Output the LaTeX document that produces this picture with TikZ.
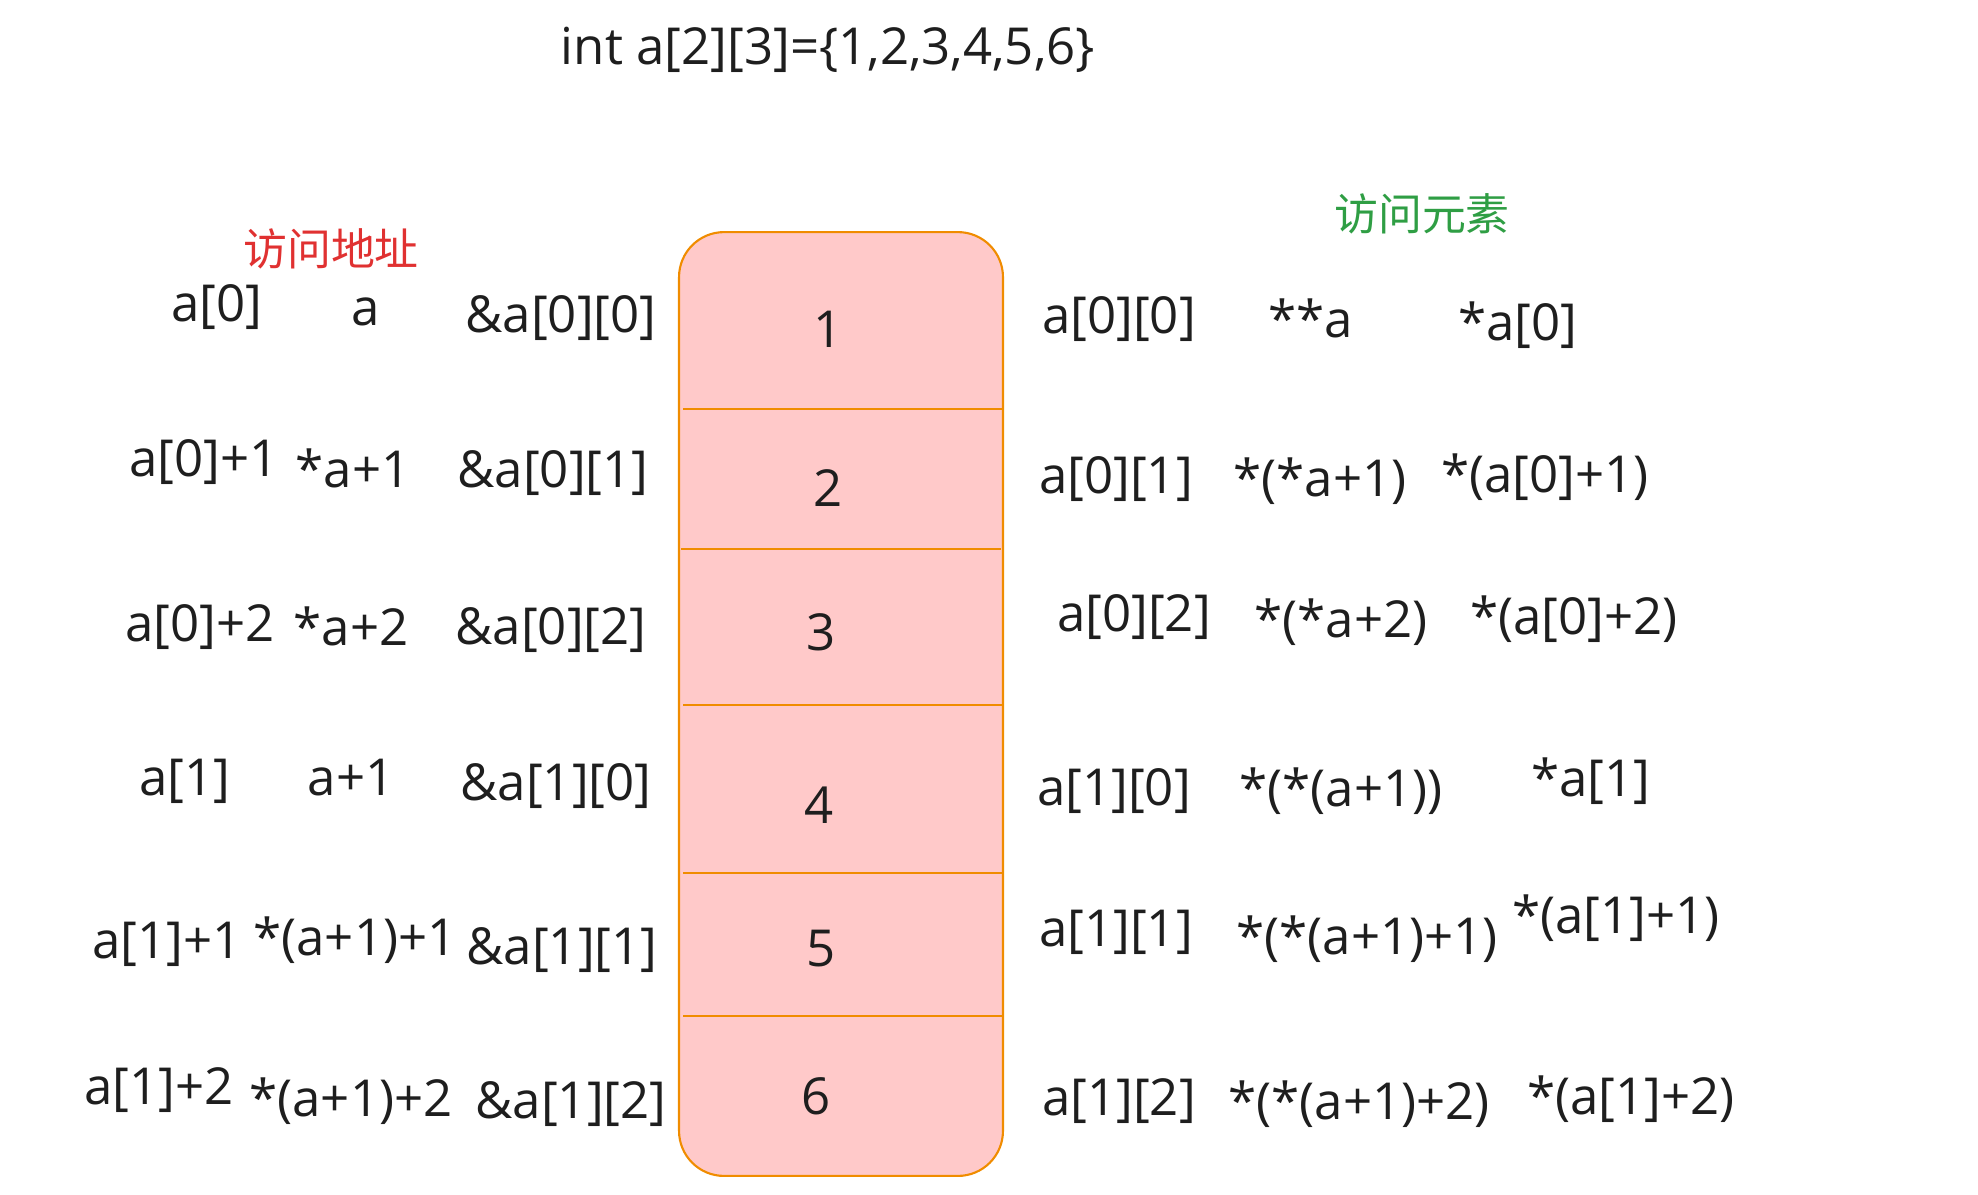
\documentclass[tikz,border=0pt]{standalone}
\usepackage{fontspec}
\setmainfont{Open Sans}
\newfontfamily\cjkfont{Noto Sans CJK SC}
\definecolor{cellfill}{HTML}{FFC9C9}
\definecolor{cellline}{HTML}{F08C00}
\definecolor{addrred}{HTML}{E03131}
\definecolor{elemgreen}{HTML}{2F9E44}
\definecolor{ink}{HTML}{1E1E1E}

\begin{document}
\begin{tikzpicture}[x=0.02cm,y=-0.02cm]
		\tikzstyle{every node}+=[inner sep=0pt,text=ink,font=\fontsize{29}{32}\selectfont]
		\tikzstyle{cell}=[draw=cellline,fill=cellfill,line width=1.2pt,rounded corners=0.9cm]
		\tikzstyle{split}=[draw=cellline,line width=1.2pt]
		\tikzstyle{head}=[font=\cjkfont\fontsize{25}{28}\selectfont]
		\useasboundingbox (0,0) rectangle (1978,1194);
		\node (title) at (828,50) {int a[2][3]=\{1,2,3,4,5,6\}};
		\node (col) at (841,704) [cell,minimum width=6.48cm,minimum height=18.88cm] {};
		\draw [split] (683,409) -- (1003,409);
		\draw [split] (681,549) -- (1001,549);
		\draw [split] (683,705) -- (1003,705);
		\draw [split] (683,873) -- (1003,873);
		\draw [split] (683,1016) -- (1003,1016);
		\node (c1) at (828,329) {1};
		\node (c2) at (828,488) {2};
		\node (c3) at (821,632) {3};
		\node (c4) at (819,805) {4};
		\node (c5) at (821,949) {5};
		\node (c6) at (816,1096) {6};
		\node (addr) at (331,249) [head,text=addrred] {访问地址};
		\node (elem) at (1422,214) [head,text=elemgreen] {访问元素};
		\node (l11) at (217,307) {a[0]};
		\node (l12) at (366,312) {a};
		\node (l13) at (561,318) {\&a[0][0]};
		\node (l21) at (204,462) {a[0]+1};
		\node (l22) at (353,468) {*a+1};
		\node (l23) at (553,473) {\&a[0][1]};
		\node (l31) at (200,627) {a[0]+2};
		\node (l32) at (351,626) {*a+2};
		\node (l33) at (551,630) {\&a[0][2]};
		\node (l41) at (185,781) {a[1]};
		\node (l42) at (351,778) {a+1};
		\node (l43) at (556,786) {\&a[1][0]};
		\node (l51) at (167,944) {a[1]+1};
		\node (l52) at (355,940) {*(a+1)+1};
		\node (l53) at (562,950) {\&a[1][1]};
		\node (l61) at (159,1090) {a[1]+2};
		\node (l62) at (351,1101) {*(a+1)+2};
		\node (l63) at (571,1104) {\&a[1][2]};
		\node (r11) at (1119,319) {a[0][0]};
		\node (r12) at (1311,318) {**a};
		\node (r13) at (1518,325) {*a[0]};
		\node (r21) at (1116,479) {a[0][1]};
		\node (r22) at (1320,481) {*(*a+1)};
		\node (r23) at (1545,477) {*(a[0]+1)};
		\node (r31) at (1134,617) {a[0][2]};
		\node (r32) at (1341,622) {*(*a+2)};
		\node (r33) at (1574,619) {*(a[0]+2)};
		\node (r41) at (1114,791) {a[1][0]};
		\node (r42) at (1341,791) {*(*(a+1))};
		\node (r43) at (1591,781) {*a[1]};
		\node (r51) at (1116,932) {a[1][1]};
		\node (r52) at (1367,939) {*(*(a+1)+1)};
		\node (r53) at (1616,918) {*(a[1]+1)};
		\node (r61) at (1119,1101) {a[1][2]};
		\node (r62) at (1359,1104) {*(*(a+1)+2)};
		\node (r63) at (1631,1099) {*(a[1]+2)};
	\end{tikzpicture}
\end{document}
